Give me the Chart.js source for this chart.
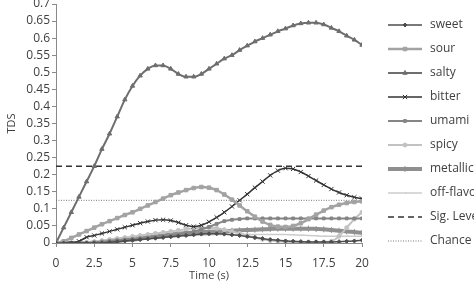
<!DOCTYPE html>
<html>
<head>
<meta charset="utf-8">
<script src="https://cdn.jsdelivr.net/npm/chart.js@4/dist/chart.umd.min.js"></script>
<style>
  html, body { margin: 0; padding: 0; background: #fff; }
  #wrap { width: 474px; height: 287px; }
</style>
</head>
<body>
<div id="wrap"><canvas id="chart"></canvas></div>
<script>
// time in seconds
const times = [0, 0.5, 1, 1.5, 2, 2.5, 3, 3.5, 4, 4.5, 5, 5.5, 6, 6.5, 7, 7.5, 8, 8.5, 9, 9.5, 10,
  10.5, 11, 11.5, 12, 12.5, 13, 13.5, 14, 14.5, 15, 15.5, 16, 16.5, 17, 17.5, 18, 18.5, 19, 19.5, 20];

// TDS per attribute
const sweet = [0, 0, 0, 0, 0, 0, 0, 0.002, 0.004, 0.006, 0.008,
  0.01, 0.012, 0.014, 0.016, 0.018, 0.02, 0.022, 0.024, 0.026, 0.027,
  0.027, 0.026, 0.024, 0.022, 0.019, 0.016, 0.013, 0.01, 0.008, 0.006,
  0.005, 0.004, 0.003, 0.003, 0.003, 0.003, 0.004, 0.005, 0.006, 0.008];
const sour = [0, 0.005, 0.015, 0.025, 0.035, 0.045, 0.055, 0.064, 0.073, 0.082, 0.09,
  0.1, 0.11, 0.12, 0.13, 0.14, 0.148, 0.155, 0.161, 0.164, 0.162,
  0.155, 0.142, 0.127, 0.11, 0.093, 0.077, 0.063, 0.053, 0.048, 0.047,
  0.05, 0.058, 0.07, 0.083, 0.095, 0.105, 0.112, 0.117, 0.12, 0.122];
const salty = [0, 0.045, 0.09, 0.135, 0.18, 0.225, 0.275, 0.32, 0.37, 0.42, 0.46,
  0.49, 0.51, 0.52, 0.52, 0.51, 0.495, 0.487, 0.487, 0.495, 0.51,
  0.525, 0.54, 0.55, 0.565, 0.578, 0.59, 0.6, 0.61, 0.62, 0.628,
  0.637, 0.643, 0.645, 0.645, 0.64, 0.63, 0.62, 0.607, 0.595, 0.58];
const bitter = [0, 0, 0, 0.005, 0.017, 0.022, 0.028, 0.034, 0.04, 0.046, 0.052,
  0.058, 0.063, 0.067, 0.068, 0.066, 0.06, 0.052, 0.048, 0.052, 0.062,
  0.075, 0.09, 0.107, 0.125, 0.143, 0.162, 0.18, 0.198, 0.212, 0.219,
  0.217, 0.208, 0.196, 0.183, 0.17, 0.158, 0.148, 0.14, 0.134, 0.13];
const umami = [0, 0, 0, 0, 0, 0.002, 0.004, 0.006, 0.008, 0.01, 0.012,
  0.014, 0.016, 0.018, 0.02, 0.022, 0.025, 0.029, 0.034, 0.04, 0.047,
  0.056, 0.064, 0.068, 0.07, 0.072, 0.072, 0.072, 0.072, 0.072, 0.072,
  0.072, 0.072, 0.072, 0.072, 0.072, 0.072, 0.072, 0.072, 0.072, 0.072];
const spicy = [0, 0, 0, 0, 0.002, 0.004, 0.007, 0.01, 0.013, 0.016, 0.019,
  0.022, 0.025, 0.028, 0.031, 0.034, 0.037, 0.04, 0.043, 0.045, 0.045,
  0.043, 0.039, 0.034, 0.028, 0.022, 0.016, 0.011, 0.007, 0.005, 0.004,
  0.003, 0.003, 0.003, 0.003, 0.003, 0.005, 0.02, 0.045, 0.07, 0.09];
const metallic = [0, 0, 0, 0, 0, 0.001, 0.002, 0.004, 0.006, 0.008, 0.01,
  0.013, 0.016, 0.019, 0.022, 0.025, 0.027, 0.029, 0.031, 0.032, 0.033,
  0.034, 0.035, 0.036, 0.037, 0.038, 0.039, 0.04, 0.041, 0.042, 0.042,
  0.042, 0.042, 0.042, 0.041, 0.04, 0.038, 0.036, 0.034, 0.032, 0.03];
const offFlavor = [0, 0, 0, 0, 0, 0, 0.001, 0.002, 0.004, 0.006, 0.008,
  0.01, 0.012, 0.014, 0.016, 0.018, 0.02, 0.021, 0.022, 0.023, 0.024,
  0.025, 0.025, 0.025, 0.025, 0.025, 0.025, 0.025, 0.025, 0.025, 0.025,
  0.024, 0.023, 0.022, 0.021, 0.02, 0.02, 0.02, 0.02, 0.02, 0.02];

// reference lines
const sigLevel = 0.225;
const chance = 0.125;

const xTicks = [0, 2.5, 5, 7.5, 10, 12.5, 15, 17.5, 20];

function pts(arr) {
  return arr.map((v, i) => ({ x: times[i], y: v }));
}
function flat(v) {
  return [{ x: times[0], y: v }, { x: times[times.length - 1], y: v }];
}

function series(label, arr, color, width, style, radius) {
  return {
    label: label,
    data: pts(arr),
    borderColor: color,
    backgroundColor: color,
    borderWidth: width,
    pointStyle: style,
    pointRadius: radius,
    pointBorderWidth: 1,
    pointHoverRadius: 0,
    cubicInterpolationMode: 'monotone'
  };
}

const datasets = [
  series('sweet', sweet, '#4d4d4d', 1.5, 'rectRot', 2),
  series('sour', sour, '#a3a3a3', 2.5, 'rect', 2.5),
  series('salty', salty, '#6e6e6e', 2, 'triangle', 2.5),
  series('bitter', bitter, '#333333', 1.5, 'crossRot', 3),
  series('umami', umami, '#858585', 2, 'rect', 2),
  series('spicy', spicy, '#c2c2c2', 2, 'circle', 2),
  series('metallic', metallic, '#8f8f8f', 4, 'cross', 3),
  series('off-flavor', offFlavor, '#cccccc', 1.5, 'dash', 2),
  {
    label: 'Sig. Level', data: flat(sigLevel), borderColor: '#333333',
    borderWidth: 1.5, borderDash: [6, 4], pointRadius: 0
  },
  {
    label: 'Chance', data: flat(chance), borderColor: '#777777',
    borderWidth: 1, borderDash: [1, 1.5], pointRadius: 0
  }
];

// excel style legend: line with marker in middle
const sideLegend = {
  id: 'sideLegend',
  afterDraw(chart) {
    const ctx = chart.ctx;
    ctx.save();
    chart.data.datasets.forEach((ds, i) => {
      const y = 25 + i * 24;
      ctx.strokeStyle = ds.borderColor;
      ctx.lineWidth = ds.borderWidth;
      ctx.setLineDash(ds.borderDash || []);
      ctx.beginPath();
      ctx.moveTo(388, y);
      ctx.lineTo(422, y);
      ctx.stroke();
      ctx.setLineDash([]);
      if (ds.pointRadius > 0 && Chart.helpers && Chart.helpers.drawPoint) {
        ctx.fillStyle = ds.backgroundColor;
        ctx.lineWidth = 1;
        Chart.helpers.drawPoint(ctx, { pointStyle: ds.pointStyle, radius: ds.pointRadius, borderWidth: 1, rotation: 0 }, 405, y);
      }
      ctx.fillStyle = '#404040';
      ctx.font = "12px 'Open Sans', sans-serif";
      ctx.textBaseline = 'middle';
      ctx.textAlign = 'left';
      ctx.fillText(ds.label, 430, y);
    });
    ctx.restore();
  }
};

Chart.defaults.font.family = "'Open Sans', sans-serif";
Chart.defaults.color = '#404040';

new Chart(document.getElementById('chart'), {
  type: 'line',
  data: { datasets: datasets },
  options: {
    responsive: true,
    maintainAspectRatio: false,
    animation: false,
    events: [],
    layout: { padding: { top: 4, right: 112, left: 0, bottom: 0 } },
    plugins: { legend: { display: false }, tooltip: { enabled: false } },
    scales: {
      x: {
        type: 'linear',
        min: 0,
        max: 20,
        afterBuildTicks: (s) => { s.ticks = xTicks.map(v => ({ value: v })); },
        afterFit: (s) => { s.height = 44; },
        border: { color: '#8a8a8a', width: 1 },
        grid: { drawOnChartArea: false, drawTicks: true, tickLength: 4, color: '#8a8a8a' },
        ticks: { font: { size: 12 }, padding: 9, maxRotation: 0, autoSkip: false },
        title: { display: true, text: 'Time (s)', font: { size: 11 }, padding: { top: 0, bottom: 5 } }
      },
      y: {
        min: 0,
        max: 0.7,
        afterFit: (s) => { s.width = 56; s.paddingTop = 0; s.paddingBottom = 0; },
        border: { color: '#8a8a8a', width: 1 },
        grid: { drawOnChartArea: false, drawTicks: true, tickLength: 4, color: '#8a8a8a' },
        ticks: {
          stepSize: 0.05,
          font: { size: 12 },
          padding: 2,
          autoSkip: false,
          callback: (v) => String(parseFloat(v.toFixed(2)))
        },
        title: { display: true, text: 'TDS', font: { size: 11 }, padding: { top: 5, bottom: 0 } }
      }
    }
  },
  plugins: [sideLegend]
});
</script>
</body>
</html>
